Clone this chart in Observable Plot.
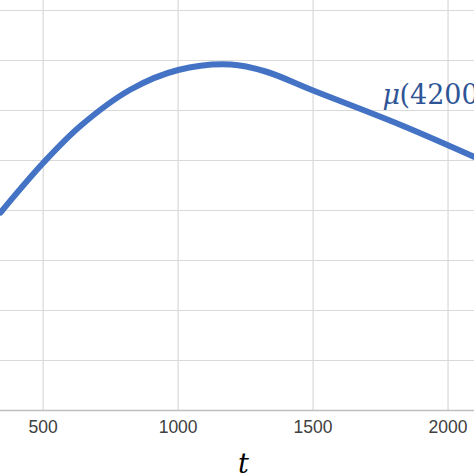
<!DOCTYPE html>
<html>
<head>
<meta charset="utf-8">
<script src="https://cdn.jsdelivr.net/npm/d3@7"></script>
<script src="https://cdn.jsdelivr.net/npm/@observablehq/plot@0.6"></script>
<style>
  html, body { margin: 0; padding: 0; background: #fff; overflow: hidden; }
</style>
</head>
<body>
<div id="chart"></div>
<script>
// Curve samples (t, value in grid units)
const tValues  = [342, 500, 638, 824, 1000, 1195, 1324, 1500, 1825, 2098];
const muValues = [3.96, 4.95, 5.69, 6.42, 6.81, 6.92, 6.78, 6.40, 5.71, 5.07];

const xTicks = [500, 1000, 1500, 2000];
const yTicks = [1, 2, 3, 4, 5, 6, 7, 8];
const xDomain = [342, 2098];
const yDomain = [0, 8.2];

const seriesLabelSymbol = "μ";
const seriesLabelRest = "(4200, t)";
const seriesLabelT = [1757];
const seriesLabelV = [6.14];
const axisLabel = "t";

const data = tValues.map((t, i) => ({t, v: muValues[i]}));
const labelData = seriesLabelT.map((t, i) => ({t, v: seriesLabelV[i]}));

const chart = Plot.plot({
  width: 474,
  height: 474,
  marginTop: 0,
  marginRight: 0,
  marginBottom: 64,
  marginLeft: 0,
  style: {background: "#fff", overflow: "hidden"},
  x: {domain: xDomain},
  y: {domain: yDomain},
  marks: [
    Plot.gridY(yTicks, {stroke: "#d9d9d9", strokeOpacity: 1, strokeWidth: 1.2}),
    Plot.gridX(xTicks, {stroke: "#d9d9d9", strokeOpacity: 1, strokeWidth: 1.2}),
    Plot.ruleY([0], {stroke: "#bfbfbf", strokeWidth: 1.3}),
    Plot.axisX(xTicks, {
      tickSize: 0, tickPadding: 10.5, fontSize: 17.5,
      fontFamily: "Liberation Sans", fill: "#404040", label: null,
      tickFormat: d => String(d)
    }),
    Plot.axisY({ticks: [], label: null, tickSize: 0}),
    Plot.line(data, {x: "t", y: "v", stroke: "#4472C4", strokeWidth: 6, curve: "catmull-rom", clip: true}),
    Plot.text(labelData, {
      x: "t", y: "v", text: () => seriesLabelSymbol, textAnchor: "start", lineAnchor: "bottom",
      fontFamily: "DejaVu Serif", fontStyle: "italic", fontSize: 27, fill: "#2E5596"
    }),
    Plot.text(labelData, {
      x: "t", y: "v", text: () => seriesLabelRest, textAnchor: "start", lineAnchor: "bottom", dx: 17,
      fontFamily: "DejaVu Serif", fontSize: 27, fill: "#2E5596"
    }),
    Plot.text([axisLabel], {
      frameAnchor: "bottom", text: d => d, lineAnchor: "bottom", dy: 62, dx: 6,
      fontFamily: "DejaVu Serif", fontStyle: "italic", fontSize: 27, fill: "#000"
    })
  ]
});
document.getElementById("chart").appendChild(chart);
</script>
</body>
</html>
